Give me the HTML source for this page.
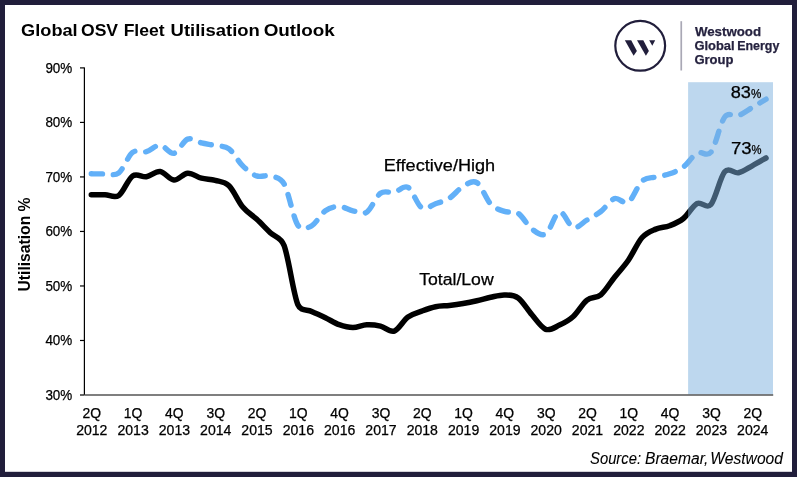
<!DOCTYPE html>
<html><head><meta charset="utf-8"><title>Global OSV Fleet Utilisation Outlook</title>
<style>
html,body{margin:0;padding:0;background:#211e3b;}
body{width:797px;height:477px;overflow:hidden;font-family:"Liberation Sans",sans-serif;}
svg{display:block;will-change:transform;}
text{font-family:"Liberation Sans",sans-serif;stroke:#000;stroke-width:0.25px;}
text.sb{font-weight:700;stroke:none;}
text.lg{font-weight:700;stroke:none;}
text.nv{stroke:#25223f;}
</style></head><body>
<svg width="797" height="477" viewBox="0 0 797 477">
<rect x="0" y="0" width="797" height="477" fill="#211e3b"/>
<rect x="5" y="5" width="787" height="466.8" fill="#ffffff"/>
<text x="21.10" y="36.20" font-size="17.3" class="sb" fill="#000" textLength="56.57" lengthAdjust="spacingAndGlyphs">Global</text>
<text x="81.00" y="36.20" font-size="17.3" class="sb" fill="#000" textLength="37.09" lengthAdjust="spacingAndGlyphs">OSV</text>
<text x="123.65" y="36.20" font-size="17.3" class="sb" fill="#000" textLength="40.96" lengthAdjust="spacingAndGlyphs">Fleet</text>
<text x="170.60" y="36.20" font-size="17.3" class="sb" fill="#000" textLength="89.22" lengthAdjust="spacingAndGlyphs">Utilisation</text>
<text x="263.65" y="36.20" font-size="17.3" class="sb" fill="#000" textLength="71.20" lengthAdjust="spacingAndGlyphs">Outlook</text>
<g id="logo">
<circle cx="640.2" cy="45.8" r="24.9" fill="none" stroke="#211e3b" stroke-width="2.2"/>
<polygon points="624.8,40.3 631.2,40.3 636.9,50.9 633.6,55.8" fill="#211e3b"/>
<polygon points="637.0,40.3 643.3,40.3 648.9,50.9 645.9,55.8" fill="#211e3b"/>
<polygon points="649.2,40.3 655.2,40.3 652.3,45.7" fill="#211e3b"/>
<rect x="680.4" y="21.2" width="1.7" height="49.3" fill="#a9a8b5"/>
</g>
<text x="694.90" y="35.70" font-size="13.2" class="sb nv" fill="#25223f" textLength="66.20" lengthAdjust="spacingAndGlyphs">Westwood</text>
<text x="694.40" y="49.60" font-size="13.2" class="sb nv" fill="#25223f" textLength="40.20" lengthAdjust="spacingAndGlyphs">Global</text>
<text x="737.20" y="49.60" font-size="13.2" class="sb nv" fill="#25223f" textLength="42.19" lengthAdjust="spacingAndGlyphs">Energy</text>
<text x="694.40" y="63.60" font-size="13.2" class="sb nv" fill="#25223f" textLength="39.09" lengthAdjust="spacingAndGlyphs">Group</text>
<g id="yaxis">
<line x1="80" y1="67.90" x2="84.4" y2="67.90" stroke="#000" stroke-width="1.2"/><text x="72.3" y="72.70" font-size="14" text-anchor="end" fill="#000" textLength="26.9" lengthAdjust="spacingAndGlyphs">90%</text>
<line x1="80" y1="122.42" x2="84.4" y2="122.42" stroke="#000" stroke-width="1.2"/><text x="72.3" y="127.22" font-size="14" text-anchor="end" fill="#000" textLength="26.9" lengthAdjust="spacingAndGlyphs">80%</text>
<line x1="80" y1="176.93" x2="84.4" y2="176.93" stroke="#000" stroke-width="1.2"/><text x="72.3" y="181.73" font-size="14" text-anchor="end" fill="#000" textLength="26.9" lengthAdjust="spacingAndGlyphs">70%</text>
<line x1="80" y1="231.45" x2="84.4" y2="231.45" stroke="#000" stroke-width="1.2"/><text x="72.3" y="236.25" font-size="14" text-anchor="end" fill="#000" textLength="26.9" lengthAdjust="spacingAndGlyphs">60%</text>
<line x1="80" y1="285.97" x2="84.4" y2="285.97" stroke="#000" stroke-width="1.2"/><text x="72.3" y="290.77" font-size="14" text-anchor="end" fill="#000" textLength="26.9" lengthAdjust="spacingAndGlyphs">50%</text>
<line x1="80" y1="340.48" x2="84.4" y2="340.48" stroke="#000" stroke-width="1.2"/><text x="72.3" y="345.28" font-size="14" text-anchor="end" fill="#000" textLength="26.9" lengthAdjust="spacingAndGlyphs">40%</text>
<line x1="80" y1="395.00" x2="84.4" y2="395.00" stroke="#000" stroke-width="1.2"/><text x="72.3" y="399.80" font-size="14" text-anchor="end" fill="#000" textLength="26.9" lengthAdjust="spacingAndGlyphs">30%</text>
<line x1="84.4" y1="67.4" x2="84.4" y2="395" stroke="#000" stroke-width="1.2"/>
</g>
<text transform="translate(30.3,291.5) rotate(-90)" font-size="16" class="sb" fill="#000" textLength="94" lengthAdjust="spacingAndGlyphs">Utilisation %</text>
<path d="M91.30 173.80 C93.59 173.80 100.48 173.97 105.07 173.80 C109.66 173.63 114.25 176.37 118.84 172.80 C123.43 169.23 128.02 155.92 132.61 152.40 C137.20 148.88 141.79 152.92 146.38 151.70 C150.97 150.48 155.56 144.83 160.15 145.10 C164.74 145.37 169.33 154.30 173.92 153.30 C178.51 152.30 183.10 140.83 187.69 139.10 C192.28 137.37 196.87 141.83 201.46 142.90 C206.05 143.97 210.64 144.50 215.23 145.50 C219.82 146.50 224.41 145.50 229.00 148.90 C233.59 152.30 238.18 161.40 242.77 165.90 C247.36 170.40 251.95 174.22 256.54 175.90 C261.13 177.58 265.72 174.67 270.31 176.00 C274.90 177.33 280.20 176.97 284.08 183.90 C288.67 192.10 293.26 218.22 297.85 225.20 C301.64 230.96 307.03 228.22 311.62 225.80 C316.21 223.38 320.80 213.92 325.39 210.70 C329.98 207.48 334.57 206.48 339.16 206.50 C343.75 206.52 348.34 209.85 352.93 210.80 C357.52 211.75 362.11 215.12 366.70 212.20 C371.29 209.28 375.88 196.60 380.47 193.30 C385.06 190.00 389.65 193.38 394.24 192.40 C398.83 191.42 403.42 184.83 408.01 187.40 C412.60 189.97 417.19 205.08 421.78 207.80 C426.37 210.52 430.96 205.28 435.55 203.70 C440.14 202.12 444.73 201.18 449.32 198.30 C453.91 195.42 458.50 189.02 463.09 186.40 C467.68 183.78 472.27 179.67 476.86 182.60 C481.45 185.53 486.04 199.20 490.63 204.00 C495.22 208.80 499.81 209.85 504.40 211.40 C508.99 212.95 513.58 210.37 518.17 213.30 C522.76 216.23 527.35 225.57 531.94 229.00 C536.53 232.43 541.12 236.73 545.71 233.90 C550.30 231.07 554.89 213.07 559.48 212.00 C564.07 210.93 568.66 226.17 573.25 227.50 C577.84 228.83 582.43 222.67 587.02 220.00 C591.61 217.33 596.20 215.07 600.79 211.50 C605.38 207.93 609.97 200.15 614.56 198.60 C619.15 197.05 623.74 205.13 628.33 202.20 C632.92 199.27 637.51 185.20 642.10 181.00 C646.69 176.80 651.28 178.20 655.87 177.00 C660.46 175.80 665.05 175.47 669.64 173.80 C674.23 172.13 678.82 170.47 683.41 167.00 C688.00 163.53 692.59 155.47 697.18 153.00 C701.77 150.53 706.76 157.68 710.95 152.20 C715.54 146.20 720.13 123.12 724.72 117.00 C728.88 111.46 733.90 117.08 738.49 115.50 C743.08 113.92 747.67 110.22 752.26 107.50 C756.85 104.78 763.74 100.58 766.03 99.20" fill="none" stroke="#62b0f8" stroke-width="5.4" stroke-linecap="round" stroke-linejoin="round" stroke-dasharray="11.05 10.99"/>
<path d="M91.30 194.70 C93.59 194.70 100.48 194.57 105.07 194.70 C109.66 194.83 114.25 198.63 118.84 195.50 C123.43 192.37 128.02 179.03 132.61 175.90 C137.20 172.77 141.79 177.43 146.38 176.70 C150.97 175.97 155.56 170.95 160.15 171.50 C164.74 172.05 169.33 179.72 173.92 180.00 C178.51 180.28 183.10 173.50 187.69 173.20 C192.28 172.90 196.87 177.00 201.46 178.20 C206.05 179.40 210.64 179.13 215.23 180.40 C219.82 181.67 224.41 181.35 229.00 185.80 C233.59 190.25 238.18 201.55 242.77 207.10 C247.36 212.65 251.95 214.83 256.54 219.10 C261.13 223.37 265.72 228.30 270.31 232.70 C274.90 237.10 280.72 236.72 284.08 245.50 C288.67 257.48 293.26 293.62 297.85 304.60 C300.81 311.68 307.03 309.22 311.62 311.40 C316.21 313.58 320.80 315.48 325.39 317.70 C329.98 319.92 334.57 323.05 339.16 324.70 C343.75 326.35 348.34 327.58 352.93 327.60 C357.52 327.62 362.11 325.05 366.70 324.80 C371.29 324.55 375.88 325.05 380.47 326.10 C385.06 327.15 389.65 332.62 394.24 331.10 C398.83 329.58 403.42 320.33 408.01 317.00 C412.60 313.67 417.19 312.82 421.78 311.10 C426.37 309.38 430.96 307.65 435.55 306.70 C440.14 305.75 444.73 305.93 449.32 305.40 C453.91 304.87 458.50 304.27 463.09 303.50 C467.68 302.73 472.27 301.83 476.86 300.80 C481.45 299.77 486.04 298.28 490.63 297.30 C495.22 296.32 499.81 294.80 504.40 294.90 C508.99 295.00 513.58 294.58 518.17 297.90 C522.76 301.22 527.35 309.57 531.94 314.80 C536.53 320.03 541.12 327.58 545.71 329.30 C550.30 331.02 554.89 327.23 559.48 325.10 C564.07 322.97 568.66 320.67 573.25 316.50 C577.84 312.33 582.43 303.72 587.02 300.10 C591.61 296.48 596.20 298.62 600.79 294.80 C605.38 290.98 609.97 282.97 614.56 277.20 C619.15 271.43 623.74 266.82 628.33 260.20 C632.92 253.58 637.51 242.68 642.10 237.50 C646.69 232.32 651.28 231.07 655.87 229.10 C660.46 227.13 665.05 227.47 669.64 225.70 C674.23 223.93 678.82 222.20 683.41 218.50 C688.00 214.80 692.59 205.83 697.18 203.50 C701.77 201.17 706.42 209.71 710.95 204.50 C715.54 199.22 720.13 177.08 724.72 171.80 C729.25 166.59 733.90 173.80 738.49 172.80 C743.08 171.80 747.67 168.27 752.26 165.80 C756.85 163.33 763.74 159.30 766.03 158.00" fill="none" stroke="#000" stroke-width="5.5" stroke-linecap="round" stroke-linejoin="round"/>
<rect x="688.1" y="82.2" width="84.9" height="312.3" fill="#7eb1de" fill-opacity="0.51"/>
<line x1="84.4" y1="395" x2="773.2" y2="395" stroke="#555" stroke-width="1.6"/>
<text x="383.80" y="170.80" font-size="16"  fill="#000" textLength="111.37" lengthAdjust="spacingAndGlyphs">Effective/High</text>
<text x="419.20" y="284.50" font-size="16"  fill="#000" textLength="74.45" lengthAdjust="spacingAndGlyphs">Total/Low</text>
<text x="730.70" y="97.60" font-size="16"  fill="#000" textLength="20.20" lengthAdjust="spacingAndGlyphs">83</text>
<text x="750.90" y="97.60" font-size="12"  fill="#000" textLength="10.30" lengthAdjust="spacingAndGlyphs">%</text>
<text x="731.00" y="153.60" font-size="16"  fill="#000" textLength="20.60" lengthAdjust="spacingAndGlyphs">73</text>
<text x="751.40" y="153.60" font-size="12"  fill="#000" textLength="10.00" lengthAdjust="spacingAndGlyphs">%</text>
<g id="xlabels" font-size="14" text-anchor="middle" fill="#000">
<text x="91.80" y="418.0" textLength="18.6" lengthAdjust="spacingAndGlyphs">2Q</text><text x="91.80" y="434.6" textLength="31.3" lengthAdjust="spacingAndGlyphs">2012</text>
<text x="133.11" y="418.0" textLength="18.6" lengthAdjust="spacingAndGlyphs">1Q</text><text x="133.11" y="434.6" textLength="31.3" lengthAdjust="spacingAndGlyphs">2013</text>
<text x="174.42" y="418.0" textLength="18.6" lengthAdjust="spacingAndGlyphs">4Q</text><text x="174.42" y="434.6" textLength="31.3" lengthAdjust="spacingAndGlyphs">2013</text>
<text x="215.73" y="418.0" textLength="18.6" lengthAdjust="spacingAndGlyphs">3Q</text><text x="215.73" y="434.6" textLength="31.3" lengthAdjust="spacingAndGlyphs">2014</text>
<text x="257.04" y="418.0" textLength="18.6" lengthAdjust="spacingAndGlyphs">2Q</text><text x="257.04" y="434.6" textLength="31.3" lengthAdjust="spacingAndGlyphs">2015</text>
<text x="298.35" y="418.0" textLength="18.6" lengthAdjust="spacingAndGlyphs">1Q</text><text x="298.35" y="434.6" textLength="31.3" lengthAdjust="spacingAndGlyphs">2016</text>
<text x="339.66" y="418.0" textLength="18.6" lengthAdjust="spacingAndGlyphs">4Q</text><text x="339.66" y="434.6" textLength="31.3" lengthAdjust="spacingAndGlyphs">2016</text>
<text x="380.97" y="418.0" textLength="18.6" lengthAdjust="spacingAndGlyphs">3Q</text><text x="380.97" y="434.6" textLength="31.3" lengthAdjust="spacingAndGlyphs">2017</text>
<text x="422.28" y="418.0" textLength="18.6" lengthAdjust="spacingAndGlyphs">2Q</text><text x="422.28" y="434.6" textLength="31.3" lengthAdjust="spacingAndGlyphs">2018</text>
<text x="463.59" y="418.0" textLength="18.6" lengthAdjust="spacingAndGlyphs">1Q</text><text x="463.59" y="434.6" textLength="31.3" lengthAdjust="spacingAndGlyphs">2019</text>
<text x="504.90" y="418.0" textLength="18.6" lengthAdjust="spacingAndGlyphs">4Q</text><text x="504.90" y="434.6" textLength="31.3" lengthAdjust="spacingAndGlyphs">2019</text>
<text x="546.21" y="418.0" textLength="18.6" lengthAdjust="spacingAndGlyphs">3Q</text><text x="546.21" y="434.6" textLength="31.3" lengthAdjust="spacingAndGlyphs">2020</text>
<text x="587.52" y="418.0" textLength="18.6" lengthAdjust="spacingAndGlyphs">2Q</text><text x="587.52" y="434.6" textLength="31.3" lengthAdjust="spacingAndGlyphs">2021</text>
<text x="628.83" y="418.0" textLength="18.6" lengthAdjust="spacingAndGlyphs">1Q</text><text x="628.83" y="434.6" textLength="31.3" lengthAdjust="spacingAndGlyphs">2022</text>
<text x="670.14" y="418.0" textLength="18.6" lengthAdjust="spacingAndGlyphs">4Q</text><text x="670.14" y="434.6" textLength="31.3" lengthAdjust="spacingAndGlyphs">2022</text>
<text x="711.45" y="418.0" textLength="18.6" lengthAdjust="spacingAndGlyphs">3Q</text><text x="711.45" y="434.6" textLength="31.3" lengthAdjust="spacingAndGlyphs">2023</text>
<text x="752.76" y="418.0" textLength="18.6" lengthAdjust="spacingAndGlyphs">2Q</text><text x="752.76" y="434.6" textLength="31.3" lengthAdjust="spacingAndGlyphs">2024</text>
</g>
<text x="590.00" y="463.70" font-size="17.3"  fill="#000" textLength="51.09" lengthAdjust="spacingAndGlyphs" font-style="italic" style="stroke-width:0.08px">Source:</text>
<text x="645.00" y="463.70" font-size="17.3"  fill="#000" textLength="63.32" lengthAdjust="spacingAndGlyphs" font-style="italic" style="stroke-width:0.08px">Braemar,</text>
<text x="710.25" y="463.70" font-size="17.3"  fill="#000" textLength="72.73" lengthAdjust="spacingAndGlyphs" font-style="italic" style="stroke-width:0.08px">Westwood</text>
</svg></body></html>
